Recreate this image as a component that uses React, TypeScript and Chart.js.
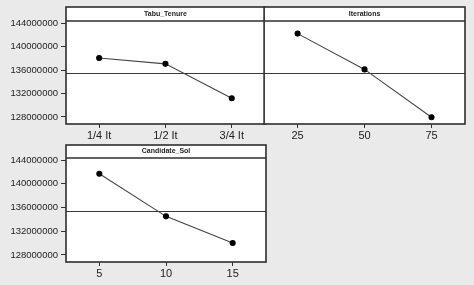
import React, { useEffect, useRef } from "react";
import { Chart, registerables } from "chart.js";

Chart.register(...registerables);

const tabuLabels = ["1/4 It", "1/2 It", "3/4 It"];
const tabuValues = [138050000, 137050000, 131200000];
const iterLabels = ["25", "50", "75"];
const iterValues = [142200000, 136100000, 127950000];
const candLabels = ["5", "10", "15"];
const candValues = [141700000, 134500000, 130000000];
const yTicks = [128000000, 132000000, 136000000, 140000000, 144000000];
const Y_MIN = 126800000;
const Y_MAX = 144350000;

const allValues = [...tabuValues, ...iterValues, ...candValues];
const grandMean = allValues.reduce((a, b) => a + b, 0) / allValues.length;

const FONT = "'Liberation Sans', Arial, sans-serif";

type PanelProps = {
  title: string;
  labels: string[];
  values: number[];
  showY: boolean;
  left: number;
  top: number;
  width: number;
  height: number;
  padding: { left: number; right: number; top: number; bottom: number };
  xHeight: number;
  headerH: number;
};

function Panel(p: PanelProps) {
  const ref = useRef<HTMLCanvasElement | null>(null);
  useEffect(() => {
    if (!ref.current) return;
    const panelPlugin = {
      id: "panelDeco",
      beforeDraw(chart: any) {
        const { ctx, chartArea: a } = chart;
        ctx.save();
        ctx.fillStyle = "#ffffff";
        ctx.fillRect(a.left, a.top - p.headerH, a.right - a.left, a.bottom - a.top + p.headerH);
        ctx.restore();
      },
      beforeDatasetsDraw(chart: any) {
        const { ctx, chartArea: a, scales } = chart;
        const y = Math.round(scales.y.getPixelForValue(grandMean)) + 0.5;
        ctx.save();
        ctx.strokeStyle = "#3a3a3a";
        ctx.lineWidth = 1.2;
        ctx.beginPath();
        ctx.moveTo(a.left, y);
        ctx.lineTo(a.right, y);
        ctx.stroke();
        ctx.restore();
      },
      afterDraw(chart: any) {
        const { ctx, chartArea: a } = chart;
        ctx.save();
        ctx.strokeStyle = "#2e2e2e";
        ctx.lineWidth = 1.6;
        ctx.strokeRect(a.left, a.top - p.headerH, a.right - a.left, a.bottom - a.top + p.headerH);
        ctx.beginPath();
        ctx.moveTo(a.left, a.top);
        ctx.lineTo(a.right, a.top);
        ctx.stroke();
        ctx.fillStyle = "#222";
        ctx.font = "bold 7px " + FONT;
        ctx.textAlign = "center";
        ctx.textBaseline = "middle";
        ctx.fillText(p.title, (a.left + a.right) / 2, a.top - p.headerH / 2);
        ctx.restore();
      },
    };
    const chart = new Chart(ref.current, {
      type: "line",
      data: {
        labels: p.labels,
        datasets: [
          {
            data: p.values,
            borderColor: "#444",
            borderWidth: 1.1,
            pointBackgroundColor: "#000",
            pointBorderColor: "#000",
            pointRadius: 2.5,
            tension: 0,
          },
        ],
      },
      options: {
        animation: false,
        responsive: false,
        maintainAspectRatio: false,
        layout: { padding: p.padding },
        plugins: { legend: { display: false }, tooltip: { enabled: false }, title: { display: false } },
        scales: {
          x: {
            type: "category",
            offset: true,
            border: { display: false },
            grid: { display: true, drawOnChartArea: false, drawTicks: true, tickLength: 4, color: "#333" },
            ticks: { font: { size: 11, family: FONT }, color: "#222", padding: 1, maxRotation: 0 },
            afterFit: (s: any) => {
              s.height = p.xHeight;
            },
          },
          y: {
            display: p.showY,
            min: Y_MIN,
            max: Y_MAX,
            border: { display: false },
            grid: { display: true, drawOnChartArea: false, drawTicks: true, tickLength: 5, color: "#333" },
            ticks: {
              font: { size: 9.5, family: FONT },
              color: "#222",
              padding: 3,
              callback: (v: any) => String(Math.round(Number(v))),
            },
            afterBuildTicks: (s: any) => {
              s.ticks = yTicks.map((v) => ({ value: v }));
            },
            afterFit: (s: any) => {
              s.width = p.showY ? 66 : 0;
            },
          },
        },
      },
      plugins: [panelPlugin],
    } as any);
    return () => chart.destroy();
  }, []);
  return (
    <canvas
      ref={ref}
      width={p.width}
      height={p.height}
      style={{ position: "absolute", left: p.left, top: p.top, width: p.width, height: p.height }}
    />
  );
}

export default function App() {
  return (
    <div
      style={{
        position: "fixed",
        left: 0,
        top: 0,
        width: 474,
        height: 285,
        background: "#eaeaea",
        overflow: "hidden",
      }}
    >
      <Panel
        title="Tabu_Tenure"
        labels={tabuLabels}
        values={tabuValues}
        showY={true}
        left={0}
        top={0}
        width={270}
        height={142}
        padding={{ left: 0, right: 5, top: 21, bottom: 0 }}
        xHeight={18}
        headerH={14}
      />
      <Panel
        title="Iterations"
        labels={iterLabels}
        values={iterValues}
        showY={false}
        left={259}
        top={0}
        width={215}
        height={142}
        padding={{ left: 0, right: 9, top: 21, bottom: 0 }}
        xHeight={18}
        headerH={14}
      />
      <Panel
        title="Candidate_Sol"
        labels={candLabels}
        values={candValues}
        showY={true}
        left={0}
        top={140}
        width={274}
        height={145}
        padding={{ left: 0, right: 8, top: 18, bottom: 0 }}
        xHeight={23}
        headerH={13}
      />
    </div>
  );
}
